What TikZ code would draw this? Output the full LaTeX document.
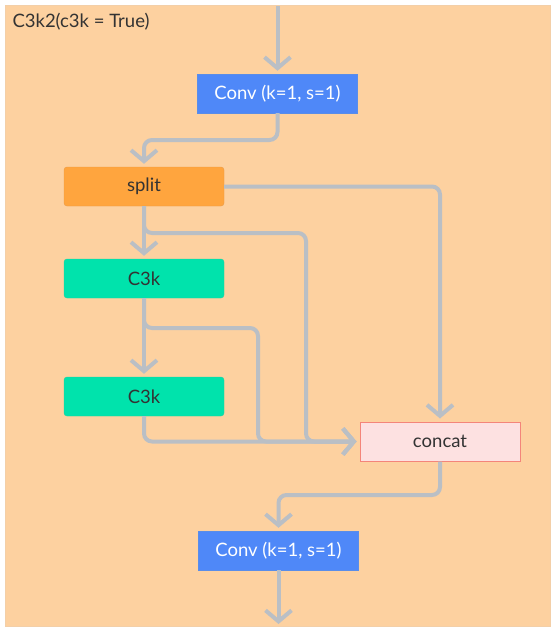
\documentclass[tikz,border=0pt]{standalone}
\usepackage{fontspec}
\setmainfont{Lato}
\usetikzlibrary{arrows.meta,positioning}
\definecolor{bgorange}{HTML}{FDD1A0}
\definecolor{bgedge}{HTML}{F3CFA8}
\definecolor{convblue}{HTML}{4F88F8}
\definecolor{convedge}{HTML}{5A8DE8}
\definecolor{splitorange}{HTML}{FFA53E}
\definecolor{splitedge}{HTML}{EA9A45}
\definecolor{c3kgreen}{HTML}{00E3AC}
\definecolor{c3kedge}{HTML}{22CFA0}
\definecolor{concatpink}{HTML}{FDE1E1}
\definecolor{concatedge}{HTML}{F4857A}
\definecolor{linegray}{HTML}{BABFC5}
\definecolor{textgray}{HTML}{333333}
\begin{document}
\begin{tikzpicture}[x=1pt,y=-1pt,
    box/.style={minimum width=160pt,minimum height=39pt,inner sep=0pt,
        font=\fontsize{18.5}{22}\selectfont,text=textgray},
    flow/.style={draw=linegray,line width=4pt,rounded corners=8pt,shorten >=3pt,
        -{Straight Barb[length=11pt,width=26pt]}}
  ]
    \useasboundingbox (0,0) rectangle (555,635);
    \draw[bgedge,fill=bgorange] (5,5) rectangle (550,626);
    \node[anchor=west,font=\fontsize{18.5}{22}\selectfont,text=textgray] (title) at (9,22) {C3k2(c3k = True)};

    % blocks
    \node[box,fill=convblue,draw=convedge,text=white] (conva) at (277.5,93.5) {Conv (k=1, s=1)};
    \node[box,fill=splitorange,draw=splitedge,rounded corners=3pt] (split) at (144,186.5) {split};
    \node[box,fill=c3kgreen,draw=c3kedge,rounded corners=3pt] (c3ka) at (144,278.5) {C3k};
    \node[box,fill=c3kgreen,draw=c3kedge,rounded corners=3pt] (c3kb) at (144,396.5) {C3k};
    \node[box,fill=concatpink,draw=concatedge,line width=1pt] (concat) at (440,441.5) {concat};
    \node[box,fill=convblue,draw=convedge,text=white] (convb) at (278.5,550.5) {Conv (k=1, s=1)};
    \coordinate (in) at (277.5,6);
    \coordinate (out) at (278.5,627);

    % connectors
    \draw[flow] (in) -- (conva.north);
    \draw[flow] (conva.south) -- (277.5,140) -- (144,140) -- (split.north);
    \draw[flow] (split.east) -- (440,186.5) -- (concat.north);
    \draw[flow] (split.south) -- (c3ka.north);
    \draw[flow] (split.south) -- (144,233) -- (306,233) -- (306,441.5) -- (concat.west);
    \draw[flow] (c3ka.south) -- (c3kb.north);
    \draw[flow] (c3ka.south) -- (144,328) -- (258,328) -- (258,441.5) -- (concat.west);
    \draw[flow] (c3kb.south) -- (144,441.5) -- (concat.west);
    \draw[flow] (concat.south) -- (440,495) -- (278.5,495) -- (convb.north);
    \draw[flow] (convb.south) -- (out);
\end{tikzpicture}
\end{document}
